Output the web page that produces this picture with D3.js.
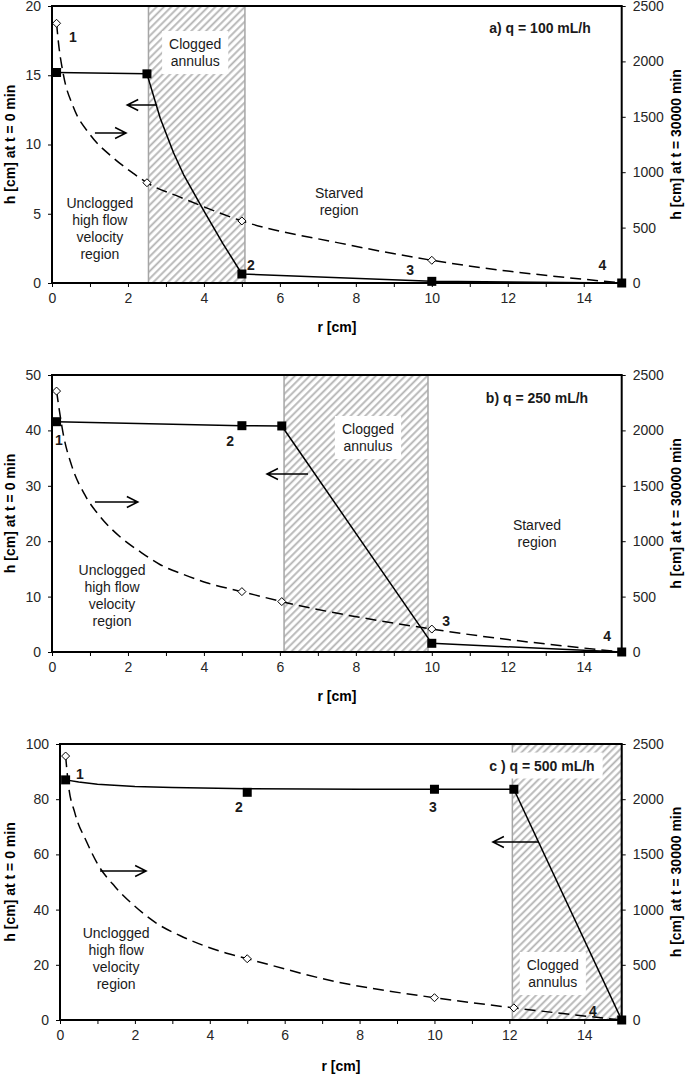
<!DOCTYPE html>
<html><head><meta charset="utf-8">
<script src="https://cdn.jsdelivr.net/npm/d3@7"></script>
<style>
body{margin:0;background:#fff}
svg{display:block}
text{font-family:"Liberation Sans",Arial,Helvetica,sans-serif}
</style>
</head><body>
<svg id="chart" width="685" height="1074"></svg>
<script>
// ---------------- DATA ----------------
const xMinorTicks = [0,1,2,3,4,5,6,7,8,9,10,11,12,13,14,15];
const xTickLabels = [0,2,4,6,8,10,12,14];
const leftTicksA = [0,5,10,15,20];
const leftTicksB = [0,10,20,30,40,50];
const leftTicksC = [0,20,40,60,80,100];
const rightTicks = [0,500,1000,1500,2000,2500];

// Panel a (q = 100 mL/h)
const solidA_r = [0.12,2.5,2.85,3.2,3.46,3.98,4.5,5,10,15];
const solidA_h = [15.2,15.1,11.9,9.4,7.85,5.3,2.85,0.65,0.12,0];
const squareA_r = [0.12,2.5,5,10,15];
const squareA_h = [15.2,15.1,0.65,0.12,0];
const dashA_r = [0.12,0.17,0.3,0.56,1.0,1.61,2.14,2.5,3.37,3.98,5,7.58,10,15];
const dashA_v = [2344,2170,1880,1590,1340,1130,990,905,775,690,560,360,205,0];
const diamA_r = [0.12,2.5,5,10,15];
const diamA_v = [2344,905,560,205,0];

// Panel b (q = 250 mL/h)
const solidB_r = [0.12,5,6.05,10,15];
const solidB_h = [41.57,40.85,40.8,1.57,0];
const squareB_r = [0.12,5,6.05,10,15];
const squareB_h = [41.57,40.85,40.8,1.57,0];
const dashB_r = [0.12,0.3,0.52,0.87,1.26,1.79,2.32,2.84,3.46,4.07,5,6.05,10,15];
const dashB_v = [2355,1960,1680,1415,1225,1040,905,790,700,625,545,455,207,0];
const diamB_r = [0.12,5,6.05,10,15];
const diamB_v = [2355,545,455,207,0];

// Panel c (q = 500 mL/h)
const solidC_r = [0.15,0.5,1,2,3,5,8,10,12.12,15];
const solidC_h = [87,86.2,85.4,84.6,84.2,83.8,83.6,83.6,83.6,0];
const squareC_r = [0.15,5,10,12.12,15];
const squareC_h = [87,82.5,83.6,83.6,0];
const dashC_r = [0.15,0.22,0.4,0.71,1.02,1.47,1.96,2.58,3.2,3.83,4.45,5,7.4,10,12.12,15];
const dashC_v = [2391,2144,1872,1615,1404,1207,1042,876,765,675,605,555,345,202,110,0];
const diamC_r = [0.15,5,10,12.12,15];
const diamC_v = [2391,555,202,110,0];

// clogged annulus extents (r)
const bandA = [2.54,5.08];
const bandB = [6.11,9.9];
const bandC = [12.08,15];

const leftMax = [20,50,100];
const rightMax = 2500;

// ---------------- ANNOTATIONS ----------------
const notes = [
  [ {r:3.77,h:16.64,lines:["Clogged","annulus"],box:true},
    {r:1.26,h:3.94,lines:["Unclogged","high flow","velocity","region"]},
    {r:7.56,h:5.88,lines:["Starved","region"]},
    {r:12.85,h:18.41,lines:["a) q = 100 mL/h"],bold:true},
    {r:0.55,h:17.76,lines:["1"],bold:true},{r:5.24,h:1.3,lines:["2"],bold:true},
    {r:9.43,h:0.94,lines:["3"],bold:true},{r:14.49,h:1.3,lines:["4"],bold:true} ],
  [ {r:8.32,h:38.72,lines:["Clogged","annulus"],box:true},
    {r:12.77,h:21.39,lines:["Starved","region"]},
    {r:1.58,h:10.2,lines:["Unclogged","high flow","velocity","region"]},
    {r:12.77,h:45.85,lines:["b) q = 250 mL/h"],bold:true},
    {r:0.18,h:38.27,lines:["1"],bold:true},{r:4.69,h:38.09,lines:["2"],bold:true},
    {r:10.38,h:5.6,lines:["3"],bold:true},{r:14.62,h:2.89,lines:["4"],bold:true} ],
  [ {r:1.5,h:22.46,lines:["Unclogged","high flow","velocity","region"]},
    {r:13.16,h:16.85,lines:["Clogged","annulus"],box:true},
    {r:12.87,h:92.2,lines:["c ) q = 500 mL/h"],bold:true,box:true,boxPadX:8,boxPadY:5},
    {r:0.53,h:89.1,lines:["1"],bold:true},{r:4.78,h:77.2,lines:["2"],bold:true},
    {r:9.96,h:77.2,lines:["3"],bold:true},{r:14.23,h:3.26,lines:["4"],bold:true} ]
];
// arrows: [r from, r to, h]
const arrows = [
  [[1.13,1.95,10.83],[2.77,1.98,12.85]],
  [[1.13,2.26,27.08],[6.74,5.66,32.13]],
  [[1.07,2.30,54.0],[12.79,11.56,64.5]]
];

// ---------------- LAYOUT ----------------
const layout = [
  {left:52,right:621.7,top:6,bottom:283,titleY:332},
  {left:52,right:621.7,top:375,bottom:652,titleY:701},
  {left:60,right:621.7,top:744,bottom:1020,titleY:1071}
];

const panels = [
  {leftTicks:leftTicksA,solid:[solidA_r,solidA_h],sq:[squareA_r,squareA_h],dash:[dashA_r,dashA_v],diam:[diamA_r,diamA_v],band:bandA},
  {leftTicks:leftTicksB,solid:[solidB_r,solidB_h],sq:[squareB_r,squareB_h],dash:[dashB_r,dashB_v],diam:[diamB_r,diamB_v],band:bandB},
  {leftTicks:leftTicksC,solid:[solidC_r,solidC_h],sq:[squareC_r,squareC_h],dash:[dashC_r,dashC_v],diam:[diamC_r,diamC_v],band:bandC}
];

const svg = d3.select("#chart");
const defs = svg.append("defs");
const pat = defs.append("pattern").attr("id","hatch").attr("patternUnits","userSpaceOnUse")
  .attr("width",5.2).attr("height",5.2).attr("patternTransform","rotate(45)");
pat.append("rect").attr("width",5.2).attr("height",5.2).attr("fill","#fff");
pat.append("line").attr("x1",1.2).attr("y1",0).attr("x2",1.2).attr("y2",5.2)
  .attr("stroke","#b3b3b3").attr("stroke-width",1.8);

const zip = (a,b) => a.map((v,i)=>[v,b[i]]);
const diamondType = { draw(ctx, size){ const s=Math.sqrt(size)/2; ctx.moveTo(0,-s); ctx.lineTo(s,0); ctx.lineTo(0,s); ctx.lineTo(-s,0); ctx.closePath(); } };

panels.forEach((P,i)=>{
  const L = layout[i];
  const x = d3.scaleLinear().domain([0,15]).range([L.left,L.right]);
  const yL = d3.scaleLinear().domain([0,leftMax[i]]).range([L.bottom,L.top]);
  const yR = d3.scaleLinear().domain([0,rightMax]).range([L.bottom,L.top]);
  const g = svg.append("g");

  // hatched band
  const bx0 = x(P.band[0]), bx1 = x(P.band[1]);
  g.append("rect").attr("x",bx0).attr("y",L.top).attr("width",bx1-bx0).attr("height",L.bottom-L.top)
    .attr("fill","url(#hatch)");
  [bx0,bx1].forEach(bx=> g.append("line").attr("x1",bx).attr("x2",bx).attr("y1",L.top).attr("y2",L.bottom)
    .attr("stroke","#a6a6a6").attr("stroke-width",1.5));

  // annotations text (boxes first)
  notes[i].forEach(n=>{
    const cx = x(n.r), cy = yL(n.h);
    const lh = 17;
    const t = g.append("text").attr("text-anchor","middle")
      .attr("font-size",14).attr("font-weight",n.bold?"bold":"normal")
      .attr("fill","#1a1a1a");
    n.lines.forEach((ln,k)=>{
      t.append("tspan").attr("x",cx).attr("y",cy - (n.lines.length-1)/2*lh + k*lh + 5).text(ln);
    });
    if(n.box){
      const bb = t.node().getBBox();
      const px = n.boxPadX||7, py = n.boxPadY||5;
      g.insert("rect","text").attr("x",bb.x-px).attr("y",bb.y-py)
        .attr("width",bb.width+2*px).attr("height",bb.height+2*py).attr("fill","#fff");
      t.raise();
    }
  });

  // arrows
  arrows[i].forEach(a=>{
    const x1=x(a[0]), x2=x(a[1]), yy=yL(a[2]);
    const dir = Math.sign(x2-x1);
    g.append("path").attr("d",`M${x1},${yy}H${x2}M${x2-dir*11},${yy-5.5}L${x2},${yy}L${x2-dir*11},${yy+5.5}`)
      .attr("fill","none").attr("stroke","#000").attr("stroke-width",1.5);
  });

  // dashed curve (right axis)
  g.append("path").datum(zip(P.dash[0],P.dash[1]))
    .attr("d",d3.line().x(d=>x(d[0])).y(d=>yR(d[1])).curve(d3.curveMonotoneX))
    .attr("fill","none").attr("stroke","#000").attr("stroke-width",1.5).attr("stroke-dasharray","11,6");
  // solid line (left axis)
  g.append("path").datum(zip(P.solid[0],P.solid[1]))
    .attr("d",d3.line().x(d=>x(d[0])).y(d=>yL(d[1])))
    .attr("fill","none").attr("stroke","#000").attr("stroke-width",1.5).attr("stroke-linejoin","round");

  // diamonds
  g.selectAll(null).data(zip(P.diam[0],P.diam[1])).enter().append("path")
    .attr("transform",d=>`translate(${x(d[0])},${yR(d[1])})`)
    .attr("d",d3.symbol().type(diamondType).size(64))
    .attr("fill","#fff").attr("stroke","#000").attr("stroke-width",1);
  // squares
  g.selectAll(null).data(zip(P.sq[0],P.sq[1])).enter().append("path")
    .attr("transform",d=>`translate(${x(d[0])},${yL(d[1])})`)
    .attr("d",d3.symbol().type(d3.symbolSquare).size(81))
    .attr("fill","#000");

  // axes
  const ax = g.append("g").attr("transform",`translate(0,${L.bottom})`)
    .call(d3.axisBottom(x).tickValues(xMinorTicks).tickSize(4).tickPadding(6)
      .tickFormat(d=> xTickLabels.includes(d) ? d : ""));
  const al = g.append("g").attr("transform",`translate(${L.left},0)`)
    .call(d3.axisLeft(yL).tickValues(P.leftTicks).tickSize(4).tickPadding(7).tickFormat(d3.format("d")));
  const ar = g.append("g").attr("transform",`translate(${L.right},0)`)
    .call(d3.axisRight(yR).tickValues(rightTicks).tickSize(4).tickPadding(7).tickFormat(d3.format("d")));
  [ax,al,ar].forEach(a=>{
    a.select(".domain").remove();
    a.selectAll("text").attr("font-size",14).attr("fill","#262626")
      .attr("font-family",'"Liberation Sans",Arial,sans-serif');
    a.selectAll("line").attr("stroke","#000");
  });

  // frame
  g.append("rect").attr("x",L.left).attr("y",L.top).attr("width",L.right-L.left).attr("height",L.bottom-L.top)
    .attr("fill","none").attr("stroke","#000").attr("stroke-width",2);

  // axis titles
  g.append("text").attr("x",(L.left+L.right)/2).attr("y",L.titleY).attr("text-anchor","middle")
    .attr("font-size",14).attr("font-weight","bold").text("r [cm]");
  const cy = (L.top+L.bottom)/2;
  g.append("text").attr("transform",`translate(15,${cy}) rotate(-90)`).attr("text-anchor","middle")
    .attr("font-size",14).attr("font-weight","bold").text("h [cm] at t = 0 min");
  g.append("text").attr("transform",`translate(681,${cy}) rotate(-90)`).attr("text-anchor","middle")
    .attr("font-size",14).attr("font-weight","bold").text("h [cm] at t = 30000 min");
});
</script>
</body></html>
